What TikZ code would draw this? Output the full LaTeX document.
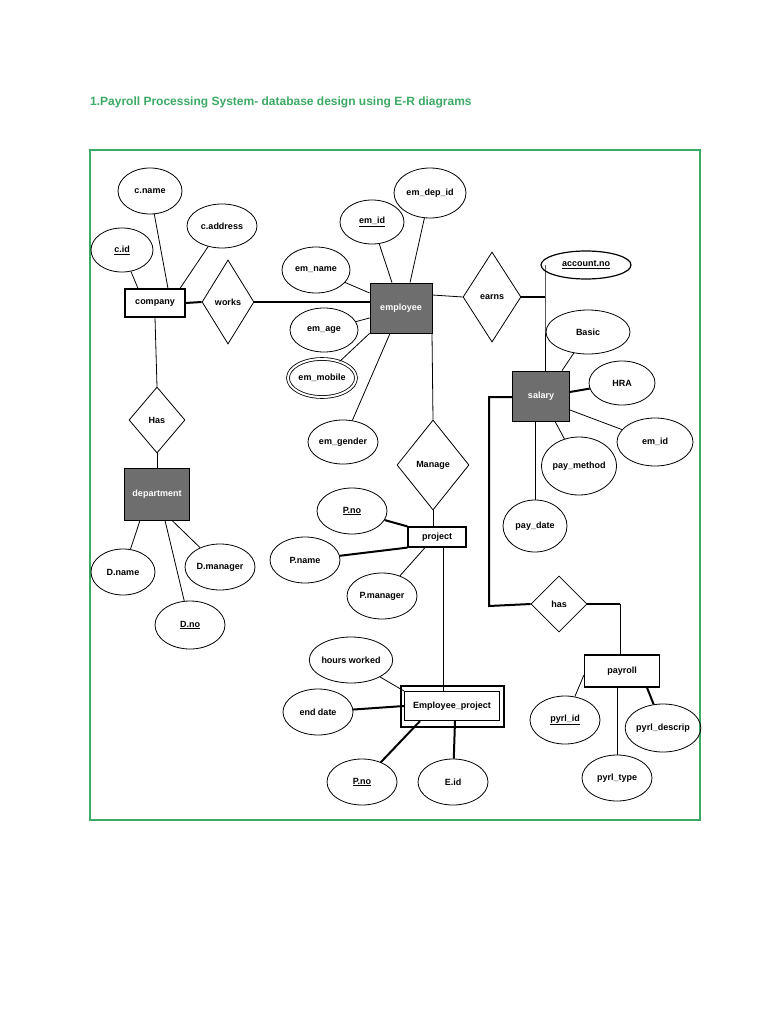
\documentclass[tikz,border=0pt]{standalone}
\usepackage{fontspec}
\setmainfont{Liberation Sans}
\usetikzlibrary{shapes.geometric}
\definecolor{grn}{RGB}{60,170,100}
\definecolor{gbox}{RGB}{110,110,110}
\tikzset{
 every node/.style={font=\bfseries\fontsize{9}{10}\selectfont, inner sep=0pt},
 attr/.style={ellipse, draw, thick, inner sep=0pt},
 ent/.style={draw, very thick, minimum width=#1, minimum height=20pt},
 gent/.style={draw, thick, fill=gbox, text=white, minimum width=62pt, minimum height=50pt},
 rel/.style={diamond, draw, thick, aspect=0.6, inner sep=0pt},
 ln/.style={thick},
 tk/.style={line width=2pt}
}
\begin{document}
\begin{tikzpicture}[x=1pt,y=-1pt]
\useasboundingbox (0,0) rectangle (768,1024);
\node[anchor=west, text=grn, font=\bfseries\fontsize{12}{14}\selectfont] (title) at (90,102) {1.Payroll Processing System- database design using E-R diagrams};
\draw[grn, line width=2pt] (90,150) rectangle (700,820);
% entities
\node[ent=60pt, minimum height=28pt] (company) at (155,303) {company};
\node[gent] (employee) at (401,308) {employee};
\node[gent, minimum width=57pt] (salary) at (541,396) {salary};
\node[gent, minimum width=65pt, minimum height=52pt] (dept) at (157,494) {department};
\node[ent=58pt] (project) at (437,537) {project};
\node[ent=75pt, minimum height=32pt] (payroll) at (622,671) {payroll};
\node[draw, very thick, minimum width=95pt, minimum height=29pt] (ep) at (452,706) {Employee\_project};
\draw[very thick] (401,686) rectangle (504,727);
% relations
\node[rel, minimum width=52pt, minimum height=84pt] (works) at (228,302) {works};
\node[rel, minimum width=58pt, minimum height=90pt] (earns) at (492,297) {earns};
\node[rel, minimum width=56pt, minimum height=66pt] (has1) at (157,420) {Has};
\node[rel, minimum width=72pt, minimum height=90pt] (manage) at (433,465) {Manage};
\node[rel, minimum width=56pt, minimum height=56pt] (has2) at (559,604) {has};
% attributes
\node[attr, minimum width=64pt, minimum height=46pt] (cname) at (150,191) {c.name};
\node[attr, minimum width=70pt, minimum height=44pt] (caddr) at (222,226) {c.address};
\node[attr, minimum width=62pt, minimum height=44pt] (cid) at (122,250) {\underline{c.id}};
\node[attr, minimum width=72pt, minimum height=50pt] (edep) at (430,193) {em\_dep\_id};
\node[attr, minimum width=64pt, minimum height=44pt] (eid) at (372,222) {\underline{em\_id}};
\node[attr, minimum width=68pt, minimum height=46pt] (ename) at (316,270) {em\_name};
\node[attr, minimum width=68pt, minimum height=44pt] (eage) at (324,330) {em\_age};
\node[attr, double, double distance=2pt, minimum width=68pt, minimum height=38pt] (emob) at (322,378) {em\_mobile};
\node[attr, minimum width=70pt, minimum height=44pt] (egen) at (343,442) {em\_gender};
\node[attr, very thick, minimum width=90pt, minimum height=28pt] (acc) at (586,265) {\underline{account.no}};
\node[attr, minimum width=84pt, minimum height=44pt] (basic) at (588,332) {Basic};
\node[attr, minimum width=66pt, minimum height=44pt] (hra) at (622,383) {HRA};
\node[attr, minimum width=76pt, minimum height=48pt] (sid) at (655,442) {em\_id};
\node[attr, minimum width=66pt, minimum height=58pt] (pmeth) at (579,466) {pay\_method};
\node[attr, minimum width=64pt, minimum height=52pt] (pdate) at (535,526) {pay\_date};
\node[attr, minimum width=70pt, minimum height=48pt] (pyid) at (565,720) {\underline{pyrl\_id}};
\node[attr, minimum width=70pt, minimum height=48pt] (pydesc) at (663,728) {pyrl\_descrip};
\node[attr, minimum width=70pt, minimum height=46pt] (pytype) at (617,778) {pyrl\_type};
\node[attr, minimum width=64pt, minimum height=46pt] (dname) at (123,572) {D.name};
\node[attr, minimum width=70pt, minimum height=46pt] (dman) at (220,567) {D.manager};
\node[attr, minimum width=70pt, minimum height=48pt] (dno) at (190,625) {\underline{D.no}};
\node[attr, minimum width=70pt, minimum height=46pt] (pno) at (352,511) {\underline{P.no}};
\node[attr, minimum width=70pt, minimum height=46pt] (pname) at (305,560) {P.name};
\node[attr, minimum width=70pt, minimum height=46pt] (pman) at (382,596) {P.manager};
\node[attr, minimum width=74pt, minimum height=46pt] (hw) at (351,660) {hours worked};
\node[attr, minimum width=70pt, minimum height=46pt] (edate) at (318,712) {end date};
\node[attr, minimum width=70pt, minimum height=46pt] (pno2) at (362,782) {\underline{P.no}};
\node[attr, minimum width=70pt, minimum height=46pt] (eid2) at (453,782) {E.id};
% connectors
\coordinate (c1) at (545,297);
\coordinate (c2) at (489,397);
\coordinate (c3) at (489,606);
\coordinate (c4) at (620,604);
\draw[tk] (company.east) -- (works.west);
\draw[tk] (works.east) -- (employee.west |- works.east);
\draw[thick] (employee.east |- 0,295) -- (earns.west);
\draw[tk] (earns.east) -- (c1);
\draw[thick] (acc.west -| c1) -- (c1) -- (salary.north -| c1);
\draw[tk] (salary.west |- c2) -- (c2) -- (c3) -- (has2.west);
\draw[tk] (has2.east) -- (c4);
\draw[thick] (c4) -- (payroll.north -| c4);
\draw[ln] (company.south) -- (has1.north);
\draw[ln] (has1.south) -- (dept.north);
\draw[ln] (employee.south -| 432,0) -- (manage.north);
\draw[ln] (manage.south) -- (project.north -| manage.south);
\draw[ln] (project.south -| 443,0) -- (ep.north -| 443,0);
\draw[ln] (cid) -- (company.north -| 138,0);
\draw[ln] (cname) -- (company.north -| 168,0);
\draw[ln] (caddr) -- (company.north -| 180,0);
\draw[ln] (eid) -- (employee.north -| 392,0);
\draw[ln] (edep) -- (employee.north -| 410,0);
\draw[ln] (ename) -- (employee.west |- 0,293);
\draw[ln] (eage) -- (employee.west |- 0,318);
\draw[ln] (emob) -- (employee.south west);
\draw[ln] (egen) -- (employee.south -| 390,0);
\draw[ln] (basic) -- (salary.north -| 562,0);
\draw[tk] (hra) -- (salary.east |- 0,392);
\draw[ln] (sid) -- (salary.east |- 0,410);
\draw[ln] (pmeth) -- (salary.south -| 555,0);
\draw[ln] (pdate) -- (salary.south -| pdate);
\draw[ln] (pyid) -- (payroll.west |- 0,675);
\draw[ln] (pytype) -- (payroll.south -| pytype);
\draw[tk] (pydesc) -- (payroll.south -| 647,0);
\draw[ln] (dname) -- (dept.south -| 140,0);
\draw[ln] (dman) -- (dept.south -| 172,0);
\draw[ln] (dno) -- (dept.south -| 165,0);
\draw[tk] (pno) -- (project.north west);
\draw[tk] (pname) -- (project.south west);
\draw[ln] (pman) -- (project.south -| 425,0);
\draw[ln] (hw) -- (ep.north west);
\draw[tk] (edate) -- (ep.west);
\draw[tk] (pno2) -- (ep.south -| 420,0);
\draw[tk] (eid2) -- (ep.south -| 455,0);
\end{tikzpicture}
\end{document}
